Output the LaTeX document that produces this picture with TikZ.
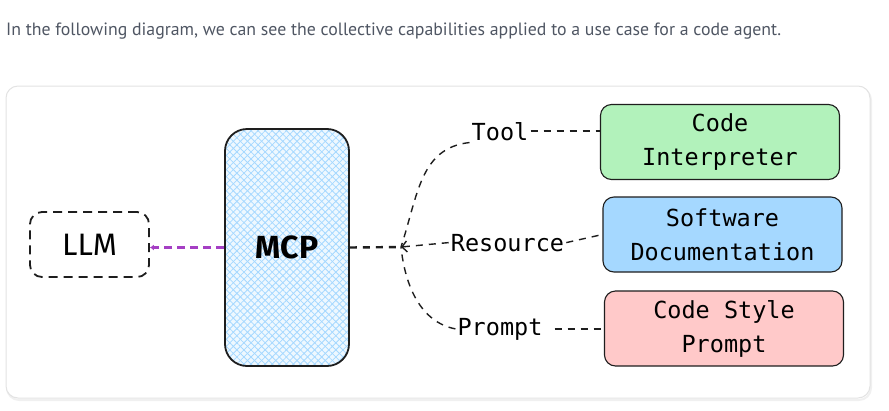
\documentclass[tikz,border=0pt]{standalone}
\usepackage{fontspec}
\setmainfont{Fira Sans}
\setmonofont{DejaVu Sans Mono}
\newfontfamily\captionfont{PT Sans}
\usetikzlibrary{arrows.meta,patterns.meta}
\definecolor{capgray}{HTML}{4F5663}
\definecolor{cardline}{HTML}{E3E3E3}
\definecolor{inkline}{HTML}{1E1E1E}
\definecolor{llmviolet}{HTML}{A53FC4}
\definecolor{mcpfill}{HTML}{EEF8FF}
\definecolor{mcphatch}{HTML}{A5D8FF}
\definecolor{toolgreen}{HTML}{B2F2BB}
\definecolor{resblue}{HTML}{A5D8FF}
\definecolor{promptred}{HTML}{FFC9C9}

\begin{document}
\begin{tikzpicture}[
  x=1pt,y=-1pt,
  capbox/.style={draw=inkline,line width=1.1pt,rounded corners=11pt,
                 minimum width=239pt,minimum height=75pt,align=center,
                 font=\ttfamily\fontsize{23.5}{34}\selectfont},
  kindlabel/.style={anchor=base,inner sep=2pt,
                    font=\ttfamily\fontsize{23.5}{28}\selectfont},
  dashlink/.style={draw=inkline,line width=1.4pt,dash pattern=on 7pt off 6pt},
  mcpbox/.style={draw=inkline,line width=1.8pt,rounded corners=22pt,
                 minimum width=124pt,minimum height=237pt,
                 preaction={fill=mcpfill},
                 preaction={pattern={Lines[angle=45,distance=5pt,line width=0.8pt]},
                            pattern color=mcphatch},
                 preaction={pattern={Lines[angle=-45,distance=5pt,line width=0.8pt]},
                            pattern color=mcphatch},
                 font=\bfseries\fontsize{32}{32}\selectfont},
  llmlink/.style={draw=llmviolet,line width=3pt,dash pattern=on 8pt off 5pt,
                  -{Latex[length=4pt,width=6pt]}}
]
\useasboundingbox (0,0) rectangle (889,410);

\node[anchor=west,inner sep=0pt,text=capgray,
      font=\captionfont\fontsize{17.8}{21}\selectfont] (caption) at (6,31)
  {In the following diagram, we can see the collective capabilities applied to a use case for a code agent.};

% card
\draw[black!6,line width=2pt,rounded corners=12pt] (7,88) rectangle (871,400);
\draw[cardline,fill=white,line width=1pt,rounded corners=12pt] (6,86) rectangle (870,398);

\node[draw=inkline,line width=1.8pt,dash pattern=on 9pt off 6pt,rounded corners=12pt,
      minimum width=119pt,minimum height=65pt,
      font=\fontsize{31}{31}\selectfont] (llm) at (89.5,244.5) {LLM};
\node[mcpbox] (mcp) at (287,247.5) {MCP};

\node[kindlabel] (tool) at (500,140) {Tool};
\node[kindlabel] (resource) at (507.5,251) {Resource};
\node[kindlabel] (prompt) at (500,335) {Prompt};

\foreach \name/\x/\y/\fillc/\txt in {ci/720/142/toolgreen/{Code\\Interpreter},
    sd/722.5/234.5/resblue/{Software\\Documentation},
    csp/724/328.5/promptred/{Code Style\\Prompt}}
  \node[capbox,fill=\fillc] (\name) at (\x,\y) {\txt};

\coordinate (hub) at (401,247);

\draw[llmlink] (mcp.west) -- (mcp.west -| llm.east);
\draw[dashlink,line width=2.4pt] (mcp.east) -- (hub);
\draw[dashlink,-{Straight Barb[length=5pt,width=11pt]}] (resource.west) -- (hub);
\draw[dashlink] (tool.south west) .. controls (420,148) and (418,195) .. (hub);
\draw[dashlink] (prompt.west) .. controls (420,322) and (405,285) .. (hub);

\draw[dashlink] (tool.east) -- (tool.east -| ci.west);
\draw[dashlink] (resource.east) -- (sd.west);
\draw[dashlink,shorten <=10pt] (prompt.east) -- (prompt.east -| csp.west);
\end{tikzpicture}
\end{document}
